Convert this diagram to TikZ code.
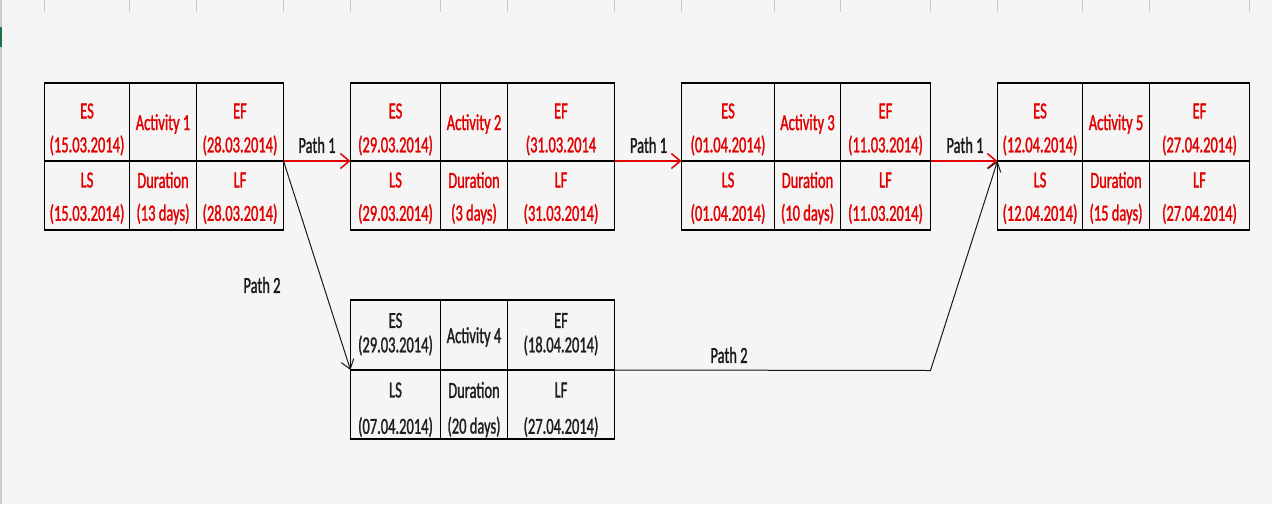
\documentclass[tikz,border=0pt]{standalone}
\usepackage{fontspec}
\setmainfont{Carlito}[FakeStretch=0.63,FakeBold=1.2]
\usetikzlibrary{arrows.meta}
\definecolor{bg}{RGB}{245,245,245}
\definecolor{actred}{RGB}{226,0,0}
\definecolor{tickgray}{RGB}{200,200,200}
\definecolor{edgegray}{RGB}{196,204,214}
\definecolor{xlgreen}{RGB}{33,115,70}
\tikzset{
  cellframe/.style={draw=black, line width=1.3pt, fill=bg, inner sep=0pt, outer sep=0pt, anchor=north west},
  thinline/.style={draw=black, line width=1.3pt},
  thickline/.style={draw=black, line width=2pt},
  txt/.style={font=\fontsize{23}{23}\selectfont, inner sep=0pt, outer sep=0pt},
  red/.style={text=actred},
  blk/.style={text=black!88},
  redpath/.style={draw=actred, line width=1.5pt, -{Straight Barb[length=9pt,width=15pt]}},
  blkpath/.style={draw=black!90, line width=1pt, -{Straight Barb[length=9pt,width=13pt]}},
  lbl/.style={txt, text=black!90},
  gridtick/.style={draw=tickgray, line width=0.8pt}
}
% name, x0, x1, x2, x3, ytop, ymid, ybottom
\newcommand{\actbox}[8]{%
  \node[cellframe, minimum width={(#5-#2)*1pt}, minimum height={(#7-#6)*1pt}] (#1t) at (#2,#6) {};
  \node[cellframe, minimum width={(#5-#2)*1pt}, minimum height={(#8-#7)*1pt}] (#1b) at (#2,#7) {};
  \draw[thinline] (#3,#6) -- (#3,#8);
  \draw[thinline] (#4,#6) -- (#4,#8);
  \draw[thickline] (#1t.north west) -- (#1t.north east);
  \draw[thickline] (#1t.south west) -- (#1t.south east);
}
% name, xa, xb, y1, y2, text1, text2, style
\newcommand{\ctwo}[8]{%
  \node[txt,#8] (#1a) at ({(#2+#3)/2},#4) {#6};
  \node[txt,#8] (#1b) at ({(#2+#3)/2},#5) {#7};
}
% name, xa, xb, y, text, style
\newcommand{\cone}[6]{%
  \node[txt,#6] (#1) at ({(#2+#3)/2},#4) {#5};
}
\begin{document}
\begin{tikzpicture}[x=1pt,y=-1pt]
\fill[bg] (0,0) rectangle (1272,504);
\useasboundingbox (0,0) rectangle (1272,504);
\fill[edgegray] (0,0) rectangle (2,504);
\fill[xlgreen] (0,27) rectangle (2,47);
\foreach \gx in {44.5,129.5,196.5,283.5,350.5,440.5,507.5,614.5,681.5,774.5,840.5,930.5,997.5,1082.5,1149.5,1249.5}
  \draw[gridtick] (\gx,0) -- (\gx,12);

% ---- boxes ----
\actbox{A1}{44.5}{129.5}{196.5}{283.5}{83}{161}{230}
\actbox{A2}{350.5}{440.5}{507.5}{614.5}{83}{161}{230}
\actbox{A3}{681.5}{774.5}{840.5}{930.5}{83}{161}{230}
\actbox{A5}{997.5}{1082.5}{1149.5}{1249.5}{83}{161}{230}
\actbox{A4}{350.5}{440.5}{507.5}{614.5}{300}{370}{439}

% ---- Activity 1 ----
\ctwo{A1es}{44.5}{129.5}{111}{145.5}{ES}{(15.03.2014)}{red}
\cone{A1act}{129.5}{196.5}{124}{Activity 1}{red}
\ctwo{A1ef}{196.5}{283.5}{111}{145.5}{EF}{(28.03.2014)}{red}
\ctwo{A1ls}{44.5}{129.5}{180}{214}{LS}{(15.03.2014)}{red}
\ctwo{A1du}{129.5}{196.5}{180}{214}{Duration}{(13 days)}{red}
\ctwo{A1lf}{196.5}{283.5}{180}{214}{LF}{(28.03.2014)}{red}
% ---- Activity 2 ----
\ctwo{A2es}{350.5}{440.5}{111}{145.5}{ES}{(29.03.2014)}{red}
\cone{A2act}{440.5}{507.5}{124}{Activity 2}{red}
\ctwo{A2ef}{507.5}{614.5}{111}{145.5}{EF}{(31.03.2014}{red}
\ctwo{A2ls}{350.5}{440.5}{180}{214}{LS}{(29.03.2014)}{red}
\ctwo{A2du}{440.5}{507.5}{180}{214}{Duration}{(3 days)}{red}
\ctwo{A2lf}{507.5}{614.5}{180}{214}{LF}{(31.03.2014)}{red}
% ---- Activity 3 ----
\ctwo{A3es}{681.5}{774.5}{111}{145.5}{ES}{(01.04.2014)}{red}
\cone{A3act}{774.5}{840.5}{124}{Activity 3}{red}
\ctwo{A3ef}{840.5}{930.5}{111}{145.5}{EF}{(11.03.2014)}{red}
\ctwo{A3ls}{681.5}{774.5}{180}{214}{LS}{(01.04.2014)}{red}
\ctwo{A3du}{774.5}{840.5}{180}{214}{Duration}{(10 days)}{red}
\ctwo{A3lf}{840.5}{930.5}{180}{214}{LF}{(11.03.2014)}{red}
% ---- Activity 5 ----
\ctwo{A5es}{997.5}{1082.5}{111}{145.5}{ES}{(12.04.2014)}{red}
\cone{A5act}{1082.5}{1149.5}{124}{Activity 5}{red}
\ctwo{A5ef}{1149.5}{1249.5}{111}{145.5}{EF}{(27.04.2014)}{red}
\ctwo{A5ls}{997.5}{1082.5}{180}{214}{LS}{(12.04.2014)}{red}
\ctwo{A5du}{1082.5}{1149.5}{180}{214}{Duration}{(15 days)}{red}
\ctwo{A5lf}{1149.5}{1249.5}{180}{214}{LF}{(27.04.2014)}{red}
% ---- Activity 4 ----
\ctwo{A4es}{350.5}{440.5}{320.5}{345.5}{ES}{(29.03.2014)}{blk}
\cone{A4act}{440.5}{507.5}{337}{Activity 4}{blk}
\ctwo{A4ef}{507.5}{614.5}{320.5}{345.5}{EF}{(18.04.2014)}{blk}
\ctwo{A4ls}{350.5}{440.5}{390}{427}{LS}{(07.04.2014)}{blk}
\ctwo{A4du}{440.5}{507.5}{390}{427}{Duration}{(20 days)}{blk}
\ctwo{A4lf}{507.5}{614.5}{390}{427}{LF}{(27.04.2014)}{blk}

% ---- connectors ----
\draw[redpath] (A1t.south east) -- (A2t.south west);
\draw[redpath] (A2t.south east) -- (A3t.south west);
\draw[redpath] (A3t.south east) -- (A5t.south west);
\draw[blkpath] (A1t.south east) -- (A4t.south west);
\coordinate (bend) at (930.5,370.5);
\draw[blkpath] (A4t.south east) -- (bend) -- (A5t.south west);

% ---- labels ----
\node[lbl] (p1a) at (317,145) {Path 1};
\node[lbl] (p1b) at (648.5,145) {Path 1};
\node[lbl] (p1c) at (965,145) {Path 1};
\node[lbl] (p2a) at (262,285) {Path 2};
\node[lbl] (p2b) at (729,355) {Path 2};
\end{tikzpicture}
\end{document}
